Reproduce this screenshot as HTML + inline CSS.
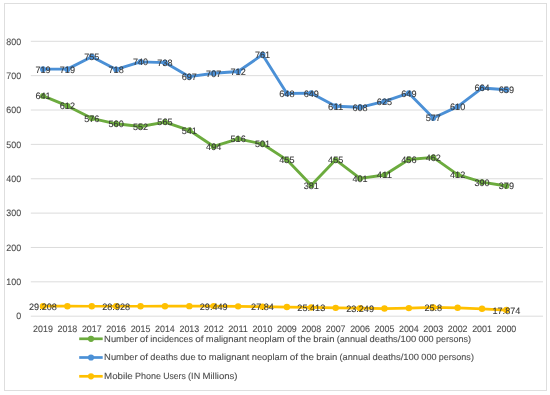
<!DOCTYPE html>
<html lang="en"><head><meta charset="utf-8"><title>Chart</title>
<style>
html,body{margin:0;padding:0;background:#fff;}
body{width:550px;height:395px;overflow:hidden;}
svg{display:block;}
text{font-family:"Liberation Sans",sans-serif;text-rendering:geometricPrecision;}
.ax{fill:#4d4d4d;font-size:9.4px;stroke:#4d4d4d;stroke-width:0.1px;}
.dl{fill:#383838;font-size:9.2px;stroke:#383838;stroke-width:0.1px;}
.lg{fill:#4d4d4d;font-size:9px;stroke:#4d4d4d;stroke-width:0.1px;}
</style></head><body>
<svg width="550" height="395" viewBox="0 0 550 395">
<rect x="0" y="0" width="550" height="395" fill="#ffffff"/>
<rect x="4.5" y="3.5" width="542" height="387" fill="#ffffff" stroke="#dedede" stroke-width="1"/>
<line x1="30.8" y1="316.20" x2="543.0" y2="316.20" stroke="#dcdcdc" stroke-width="1"/>
<line x1="30.8" y1="281.84" x2="543.0" y2="281.84" stroke="#dcdcdc" stroke-width="1"/>
<line x1="30.8" y1="247.47" x2="543.0" y2="247.47" stroke="#dcdcdc" stroke-width="1"/>
<line x1="30.8" y1="213.11" x2="543.0" y2="213.11" stroke="#dcdcdc" stroke-width="1"/>
<line x1="30.8" y1="178.75" x2="543.0" y2="178.75" stroke="#dcdcdc" stroke-width="1"/>
<line x1="30.8" y1="144.39" x2="543.0" y2="144.39" stroke="#dcdcdc" stroke-width="1"/>
<line x1="30.8" y1="110.03" x2="543.0" y2="110.03" stroke="#dcdcdc" stroke-width="1"/>
<line x1="30.8" y1="75.66" x2="543.0" y2="75.66" stroke="#dcdcdc" stroke-width="1"/>
<line x1="30.8" y1="41.30" x2="543.0" y2="41.30" stroke="#dcdcdc" stroke-width="1"/>
<text class="ax" x="16.26" y="319.40" textLength="4.94" lengthAdjust="spacingAndGlyphs">0</text>
<text class="ax" x="6.37" y="285.04" textLength="14.83" lengthAdjust="spacingAndGlyphs">100</text>
<text class="ax" x="6.37" y="250.67" textLength="14.83" lengthAdjust="spacingAndGlyphs">200</text>
<text class="ax" x="6.37" y="216.31" textLength="14.83" lengthAdjust="spacingAndGlyphs">300</text>
<text class="ax" x="6.37" y="181.95" textLength="14.83" lengthAdjust="spacingAndGlyphs">400</text>
<text class="ax" x="6.37" y="147.59" textLength="14.83" lengthAdjust="spacingAndGlyphs">500</text>
<text class="ax" x="6.37" y="113.22" textLength="14.83" lengthAdjust="spacingAndGlyphs">600</text>
<text class="ax" x="6.37" y="78.86" textLength="14.83" lengthAdjust="spacingAndGlyphs">700</text>
<text class="ax" x="6.37" y="44.50" textLength="14.83" lengthAdjust="spacingAndGlyphs">800</text>
<text class="ax" x="33.11" y="332.0" textLength="19.77" lengthAdjust="spacingAndGlyphs">2019</text>
<text class="ax" x="57.50" y="332.0" textLength="19.77" lengthAdjust="spacingAndGlyphs">2018</text>
<text class="ax" x="81.89" y="332.0" textLength="19.77" lengthAdjust="spacingAndGlyphs">2017</text>
<text class="ax" x="106.28" y="332.0" textLength="19.77" lengthAdjust="spacingAndGlyphs">2016</text>
<text class="ax" x="130.67" y="332.0" textLength="19.77" lengthAdjust="spacingAndGlyphs">2015</text>
<text class="ax" x="155.06" y="332.0" textLength="19.77" lengthAdjust="spacingAndGlyphs">2014</text>
<text class="ax" x="179.45" y="332.0" textLength="19.77" lengthAdjust="spacingAndGlyphs">2013</text>
<text class="ax" x="203.84" y="332.0" textLength="19.77" lengthAdjust="spacingAndGlyphs">2012</text>
<text class="ax" x="228.23" y="332.0" textLength="19.77" lengthAdjust="spacingAndGlyphs">2011</text>
<text class="ax" x="252.62" y="332.0" textLength="19.77" lengthAdjust="spacingAndGlyphs">2010</text>
<text class="ax" x="277.01" y="332.0" textLength="19.77" lengthAdjust="spacingAndGlyphs">2009</text>
<text class="ax" x="301.40" y="332.0" textLength="19.77" lengthAdjust="spacingAndGlyphs">2008</text>
<text class="ax" x="325.79" y="332.0" textLength="19.77" lengthAdjust="spacingAndGlyphs">2007</text>
<text class="ax" x="350.18" y="332.0" textLength="19.77" lengthAdjust="spacingAndGlyphs">2006</text>
<text class="ax" x="374.58" y="332.0" textLength="19.77" lengthAdjust="spacingAndGlyphs">2005</text>
<text class="ax" x="398.97" y="332.0" textLength="19.77" lengthAdjust="spacingAndGlyphs">2004</text>
<text class="ax" x="423.36" y="332.0" textLength="19.77" lengthAdjust="spacingAndGlyphs">2003</text>
<text class="ax" x="447.75" y="332.0" textLength="19.77" lengthAdjust="spacingAndGlyphs">2002</text>
<text class="ax" x="472.14" y="332.0" textLength="19.77" lengthAdjust="spacingAndGlyphs">2001</text>
<text class="ax" x="496.53" y="332.0" textLength="19.77" lengthAdjust="spacingAndGlyphs">2000</text>
<polyline points="43.00,95.94 67.39,105.90 91.78,118.27 116.17,123.77 140.56,126.52 164.95,122.05 189.34,130.30 213.73,146.45 238.12,138.89 262.51,144.04 286.90,159.85 311.29,185.28 335.68,159.85 360.07,178.41 384.46,174.97 408.85,159.51 433.24,157.45 457.63,174.63 482.02,182.19 506.41,185.97" fill="none" stroke="#6cab3e" stroke-width="2.85" stroke-linejoin="round" stroke-linecap="round"/>
<circle cx="43.00" cy="95.94" r="2.95" fill="#6cab3e"/>
<circle cx="67.39" cy="105.90" r="2.95" fill="#6cab3e"/>
<circle cx="91.78" cy="118.27" r="2.95" fill="#6cab3e"/>
<circle cx="116.17" cy="123.77" r="2.95" fill="#6cab3e"/>
<circle cx="140.56" cy="126.52" r="2.95" fill="#6cab3e"/>
<circle cx="164.95" cy="122.05" r="2.95" fill="#6cab3e"/>
<circle cx="189.34" cy="130.30" r="2.95" fill="#6cab3e"/>
<circle cx="213.73" cy="146.45" r="2.95" fill="#6cab3e"/>
<circle cx="238.12" cy="138.89" r="2.95" fill="#6cab3e"/>
<circle cx="262.51" cy="144.04" r="2.95" fill="#6cab3e"/>
<circle cx="286.90" cy="159.85" r="2.95" fill="#6cab3e"/>
<circle cx="311.29" cy="185.28" r="2.95" fill="#6cab3e"/>
<circle cx="335.68" cy="159.85" r="2.95" fill="#6cab3e"/>
<circle cx="360.07" cy="178.41" r="2.95" fill="#6cab3e"/>
<circle cx="384.46" cy="174.97" r="2.95" fill="#6cab3e"/>
<circle cx="408.85" cy="159.51" r="2.95" fill="#6cab3e"/>
<circle cx="433.24" cy="157.45" r="2.95" fill="#6cab3e"/>
<circle cx="457.63" cy="174.63" r="2.95" fill="#6cab3e"/>
<circle cx="482.02" cy="182.19" r="2.95" fill="#6cab3e"/>
<circle cx="506.41" cy="185.97" r="2.95" fill="#6cab3e"/>
<polyline points="43.00,69.13 67.39,69.13 91.78,56.76 116.17,69.48 140.56,61.92 164.95,62.60 189.34,76.69 213.73,73.26 238.12,71.54 262.51,54.70 286.90,93.53 311.29,93.19 335.68,106.25 360.07,107.28 384.46,101.43 408.85,93.19 433.24,117.93 457.63,106.59 482.02,88.03 506.41,89.75" fill="none" stroke="#4b90d6" stroke-width="2.85" stroke-linejoin="round" stroke-linecap="round"/>
<circle cx="43.00" cy="69.13" r="2.95" fill="#4b90d6"/>
<circle cx="67.39" cy="69.13" r="2.95" fill="#4b90d6"/>
<circle cx="91.78" cy="56.76" r="2.95" fill="#4b90d6"/>
<circle cx="116.17" cy="69.48" r="2.95" fill="#4b90d6"/>
<circle cx="140.56" cy="61.92" r="2.95" fill="#4b90d6"/>
<circle cx="164.95" cy="62.60" r="2.95" fill="#4b90d6"/>
<circle cx="189.34" cy="76.69" r="2.95" fill="#4b90d6"/>
<circle cx="213.73" cy="73.26" r="2.95" fill="#4b90d6"/>
<circle cx="238.12" cy="71.54" r="2.95" fill="#4b90d6"/>
<circle cx="262.51" cy="54.70" r="2.95" fill="#4b90d6"/>
<circle cx="286.90" cy="93.53" r="2.95" fill="#4b90d6"/>
<circle cx="311.29" cy="93.19" r="2.95" fill="#4b90d6"/>
<circle cx="335.68" cy="106.25" r="2.95" fill="#4b90d6"/>
<circle cx="360.07" cy="107.28" r="2.95" fill="#4b90d6"/>
<circle cx="384.46" cy="101.43" r="2.95" fill="#4b90d6"/>
<circle cx="408.85" cy="93.19" r="2.95" fill="#4b90d6"/>
<circle cx="433.24" cy="117.93" r="2.95" fill="#4b90d6"/>
<circle cx="457.63" cy="106.59" r="2.95" fill="#4b90d6"/>
<circle cx="482.02" cy="88.03" r="2.95" fill="#4b90d6"/>
<circle cx="506.41" cy="89.75" r="2.95" fill="#4b90d6"/>
<polyline points="43.00,306.16 67.39,306.20 91.78,306.23 116.17,306.26 140.56,306.23 164.95,306.20 189.34,306.13 213.73,306.08 238.12,306.37 262.51,306.63 286.90,307.06 311.29,307.47 335.68,307.85 360.07,308.21 384.46,308.54 408.85,308.12 433.24,307.33 457.63,307.78 482.02,308.81 506.41,310.06" fill="none" stroke="#ffc000" stroke-width="2.7" stroke-linejoin="round" stroke-linecap="round"/>
<circle cx="43.00" cy="306.16" r="3.2" fill="#ffc000"/>
<circle cx="67.39" cy="306.20" r="3.2" fill="#ffc000"/>
<circle cx="91.78" cy="306.23" r="3.2" fill="#ffc000"/>
<circle cx="116.17" cy="306.26" r="3.2" fill="#ffc000"/>
<circle cx="140.56" cy="306.23" r="3.2" fill="#ffc000"/>
<circle cx="164.95" cy="306.20" r="3.2" fill="#ffc000"/>
<circle cx="189.34" cy="306.13" r="3.2" fill="#ffc000"/>
<circle cx="213.73" cy="306.08" r="3.2" fill="#ffc000"/>
<circle cx="238.12" cy="306.37" r="3.2" fill="#ffc000"/>
<circle cx="262.51" cy="306.63" r="3.2" fill="#ffc000"/>
<circle cx="286.90" cy="307.06" r="3.2" fill="#ffc000"/>
<circle cx="311.29" cy="307.47" r="3.2" fill="#ffc000"/>
<circle cx="335.68" cy="307.85" r="3.2" fill="#ffc000"/>
<circle cx="360.07" cy="308.21" r="3.2" fill="#ffc000"/>
<circle cx="384.46" cy="308.54" r="3.2" fill="#ffc000"/>
<circle cx="408.85" cy="308.12" r="3.2" fill="#ffc000"/>
<circle cx="433.24" cy="307.33" r="3.2" fill="#ffc000"/>
<circle cx="457.63" cy="307.78" r="3.2" fill="#ffc000"/>
<circle cx="482.02" cy="308.81" r="3.2" fill="#ffc000"/>
<circle cx="506.41" cy="310.06" r="3.2" fill="#ffc000"/>
<text class="dl" x="35.39" y="99.34" textLength="15.21" lengthAdjust="spacingAndGlyphs">641</text>
<text class="dl" x="59.78" y="109.30" textLength="15.21" lengthAdjust="spacingAndGlyphs">612</text>
<text class="dl" x="84.17" y="121.67" textLength="15.21" lengthAdjust="spacingAndGlyphs">576</text>
<text class="dl" x="108.56" y="127.17" textLength="15.21" lengthAdjust="spacingAndGlyphs">560</text>
<text class="dl" x="132.95" y="129.92" textLength="15.21" lengthAdjust="spacingAndGlyphs">552</text>
<text class="dl" x="157.34" y="125.45" textLength="15.21" lengthAdjust="spacingAndGlyphs">565</text>
<text class="dl" x="181.73" y="133.70" textLength="15.21" lengthAdjust="spacingAndGlyphs">541</text>
<text class="dl" x="206.12" y="149.85" textLength="15.21" lengthAdjust="spacingAndGlyphs">494</text>
<text class="dl" x="230.51" y="142.29" textLength="15.21" lengthAdjust="spacingAndGlyphs">516</text>
<text class="dl" x="254.90" y="147.44" textLength="15.21" lengthAdjust="spacingAndGlyphs">501</text>
<text class="dl" x="279.30" y="163.25" textLength="15.21" lengthAdjust="spacingAndGlyphs">455</text>
<text class="dl" x="303.69" y="188.68" textLength="15.21" lengthAdjust="spacingAndGlyphs">381</text>
<text class="dl" x="328.08" y="163.25" textLength="15.21" lengthAdjust="spacingAndGlyphs">455</text>
<text class="dl" x="352.47" y="181.81" textLength="15.21" lengthAdjust="spacingAndGlyphs">401</text>
<text class="dl" x="376.86" y="178.37" textLength="15.21" lengthAdjust="spacingAndGlyphs">411</text>
<text class="dl" x="401.25" y="162.91" textLength="15.21" lengthAdjust="spacingAndGlyphs">456</text>
<text class="dl" x="425.64" y="160.85" textLength="15.21" lengthAdjust="spacingAndGlyphs">462</text>
<text class="dl" x="450.03" y="178.03" textLength="15.21" lengthAdjust="spacingAndGlyphs">412</text>
<text class="dl" x="474.42" y="185.59" textLength="15.21" lengthAdjust="spacingAndGlyphs">390</text>
<text class="dl" x="498.81" y="189.37" textLength="15.21" lengthAdjust="spacingAndGlyphs">379</text>
<text class="dl" x="35.39" y="72.53" textLength="15.21" lengthAdjust="spacingAndGlyphs">719</text>
<text class="dl" x="59.78" y="72.53" textLength="15.21" lengthAdjust="spacingAndGlyphs">719</text>
<text class="dl" x="84.17" y="60.16" textLength="15.21" lengthAdjust="spacingAndGlyphs">755</text>
<text class="dl" x="108.56" y="72.88" textLength="15.21" lengthAdjust="spacingAndGlyphs">718</text>
<text class="dl" x="132.95" y="65.32" textLength="15.21" lengthAdjust="spacingAndGlyphs">740</text>
<text class="dl" x="157.34" y="66.00" textLength="15.21" lengthAdjust="spacingAndGlyphs">738</text>
<text class="dl" x="181.73" y="80.09" textLength="15.21" lengthAdjust="spacingAndGlyphs">697</text>
<text class="dl" x="206.12" y="76.66" textLength="15.21" lengthAdjust="spacingAndGlyphs">707</text>
<text class="dl" x="230.51" y="74.94" textLength="15.21" lengthAdjust="spacingAndGlyphs">712</text>
<text class="dl" x="254.90" y="58.10" textLength="15.21" lengthAdjust="spacingAndGlyphs">761</text>
<text class="dl" x="279.30" y="96.93" textLength="15.21" lengthAdjust="spacingAndGlyphs">648</text>
<text class="dl" x="303.69" y="96.59" textLength="15.21" lengthAdjust="spacingAndGlyphs">649</text>
<text class="dl" x="328.08" y="109.65" textLength="15.21" lengthAdjust="spacingAndGlyphs">611</text>
<text class="dl" x="352.47" y="110.68" textLength="15.21" lengthAdjust="spacingAndGlyphs">608</text>
<text class="dl" x="376.86" y="104.83" textLength="15.21" lengthAdjust="spacingAndGlyphs">625</text>
<text class="dl" x="401.25" y="96.59" textLength="15.21" lengthAdjust="spacingAndGlyphs">649</text>
<text class="dl" x="425.64" y="121.33" textLength="15.21" lengthAdjust="spacingAndGlyphs">577</text>
<text class="dl" x="450.03" y="109.99" textLength="15.21" lengthAdjust="spacingAndGlyphs">610</text>
<text class="dl" x="474.42" y="91.43" textLength="15.21" lengthAdjust="spacingAndGlyphs">664</text>
<text class="dl" x="498.81" y="93.15" textLength="15.21" lengthAdjust="spacingAndGlyphs">659</text>
<text class="dl" x="29.06" y="309.77" textLength="27.87" lengthAdjust="spacingAndGlyphs">29.208</text>
<text class="dl" x="102.23" y="309.87" textLength="27.87" lengthAdjust="spacingAndGlyphs">28.928</text>
<text class="dl" x="199.79" y="309.69" textLength="27.87" lengthAdjust="spacingAndGlyphs">29.449</text>
<text class="dl" x="251.11" y="310.24" textLength="22.80" lengthAdjust="spacingAndGlyphs">27.84</text>
<text class="dl" x="297.36" y="311.07" textLength="27.87" lengthAdjust="spacingAndGlyphs">25.413</text>
<text class="dl" x="346.14" y="311.82" textLength="27.87" lengthAdjust="spacingAndGlyphs">23.249</text>
<text class="dl" x="424.38" y="310.94" textLength="17.73" lengthAdjust="spacingAndGlyphs">25.8</text>
<text class="dl" x="492.48" y="313.66" textLength="27.87" lengthAdjust="spacingAndGlyphs">17.874</text>
<line x1="79.2" y1="338.8" x2="102.7" y2="338.8" stroke="#6cab3e" stroke-width="2.7"/>
<circle cx="91" cy="338.8" r="3.1" fill="#6cab3e"/>
<text class="lg" y="341.7"><tspan x="104.10" textLength="33.42" lengthAdjust="spacingAndGlyphs">Number</tspan> <tspan x="139.78" textLength="8.32" lengthAdjust="spacingAndGlyphs">of</tspan> <tspan x="150.36" textLength="42.66" lengthAdjust="spacingAndGlyphs">incidences</tspan> <tspan x="195.28" textLength="8.32" lengthAdjust="spacingAndGlyphs">of</tspan> <tspan x="205.86" textLength="40.71" lengthAdjust="spacingAndGlyphs">malignant</tspan> <tspan x="248.83" textLength="35.82" lengthAdjust="spacingAndGlyphs">neoplam</tspan> <tspan x="286.91" textLength="8.32" lengthAdjust="spacingAndGlyphs">of</tspan> <tspan x="297.49" textLength="13.58" lengthAdjust="spacingAndGlyphs">the</tspan> <tspan x="313.33" textLength="21.07" lengthAdjust="spacingAndGlyphs">brain</tspan> <tspan x="336.66" textLength="30.65" lengthAdjust="spacingAndGlyphs">(annual</tspan> <tspan x="369.57" textLength="46.60" lengthAdjust="spacingAndGlyphs">deaths/100</tspan> <tspan x="418.43" textLength="15.21" lengthAdjust="spacingAndGlyphs">000</tspan> <tspan x="435.90" textLength="35.09" lengthAdjust="spacingAndGlyphs">persons)</tspan></text>
<line x1="79.2" y1="357.5" x2="102.7" y2="357.5" stroke="#4b90d6" stroke-width="2.7"/>
<circle cx="91" cy="357.5" r="3.1" fill="#4b90d6"/>
<text class="lg" y="360.4"><tspan x="104.10" textLength="33.42" lengthAdjust="spacingAndGlyphs">Number</tspan> <tspan x="139.78" textLength="8.32" lengthAdjust="spacingAndGlyphs">of</tspan> <tspan x="150.36" textLength="27.53" lengthAdjust="spacingAndGlyphs">deaths</tspan> <tspan x="180.15" textLength="15.48" lengthAdjust="spacingAndGlyphs">due</tspan> <tspan x="197.89" textLength="8.62" lengthAdjust="spacingAndGlyphs">to</tspan> <tspan x="208.77" textLength="40.71" lengthAdjust="spacingAndGlyphs">malignant</tspan> <tspan x="251.74" textLength="35.82" lengthAdjust="spacingAndGlyphs">neoplam</tspan> <tspan x="289.82" textLength="8.32" lengthAdjust="spacingAndGlyphs">of</tspan> <tspan x="300.40" textLength="13.58" lengthAdjust="spacingAndGlyphs">the</tspan> <tspan x="316.24" textLength="21.07" lengthAdjust="spacingAndGlyphs">brain</tspan> <tspan x="339.57" textLength="30.65" lengthAdjust="spacingAndGlyphs">(annual</tspan> <tspan x="372.48" textLength="46.60" lengthAdjust="spacingAndGlyphs">deaths/100</tspan> <tspan x="421.34" textLength="15.21" lengthAdjust="spacingAndGlyphs">000</tspan> <tspan x="438.81" textLength="35.09" lengthAdjust="spacingAndGlyphs">persons)</tspan></text>
<line x1="79.2" y1="376.3" x2="102.7" y2="376.3" stroke="#ffc000" stroke-width="2.7"/>
<circle cx="91" cy="376.3" r="3.1" fill="#ffc000"/>
<text class="lg" y="379.2"><tspan x="104.10" textLength="28.63" lengthAdjust="spacingAndGlyphs">Mobile</tspan> <tspan x="134.99" textLength="25.92" lengthAdjust="spacingAndGlyphs">Phone</tspan> <tspan x="163.17" textLength="22.71" lengthAdjust="spacingAndGlyphs">Users</tspan> <tspan x="188.14" textLength="12.01" lengthAdjust="spacingAndGlyphs">(IN</tspan> <tspan x="202.41" textLength="35.17" lengthAdjust="spacingAndGlyphs">Millions)</tspan></text>
</svg>
</body></html>
